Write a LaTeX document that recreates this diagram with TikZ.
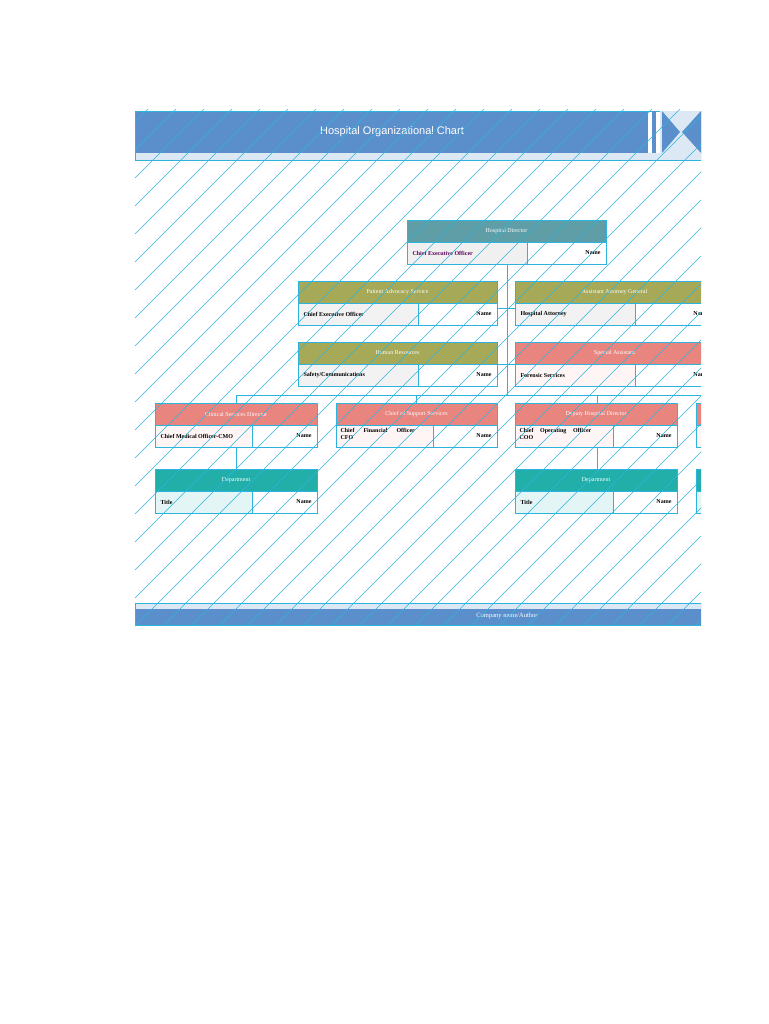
\documentclass[tikz,border=0pt]{standalone}
\usepackage{fontspec}
\setmainfont{Liberation Serif}
\newfontfamily\hsans{Liberation Sans}
\begin{document}
\begin{tikzpicture}[x=1pt,y=-1pt,
  edge/.style={draw=cyanline,line width=0.9pt},
  ttl/.style={text=white,font=\fontsize{6}{7}\selectfont},
  bdy/.style={font=\bfseries\fontsize{6}{6.5}\selectfont,align=left}]
\definecolor{cyanline}{HTML}{2CB4DE}
\definecolor{bandblue}{HTML}{5B8FCB}
\definecolor{teal1}{HTML}{5F9EA6}
\definecolor{olive}{HTML}{A5A958}
\definecolor{salmon}{HTML}{E8857F}
\definecolor{dept}{HTML}{22AFAA}
\definecolor{lightstrip}{HTML}{DCE9F5}
\useasboundingbox (0,0) rectangle (768,1024);
\fill[white] (0,0) rectangle (768,1024);
\newcommand\orgbox[8]{%
  \fill[#6] (#2,#3) rectangle (#4,#3+22);
  \fill[#8] (#2,#3+22) rectangle (#5,#3+44);
  \fill[white] (#5,#3+22) rectangle (#4,#3+44);
  \draw[edge] (#2,#3) rectangle (#4,#3+44) (#2,#3+22) -- (#4,#3+22) (#5,#3+22) -- (#5,#3+44);
  \node[ttl] (#1t) at ({(#2+#4)/2},#3+11) {#7};
}
\begin{scope}
\clip (135,110) rectangle (701,626);
% header
\fill[bandblue] (135,111) rectangle (648,153);
\fill[lightstrip] (135,153) rectangle (701,160);
\draw[edge] (135,111) rectangle (701,160);
\fill[bandblue] (652,111) rectangle (656,153);
\fill[lightstrip] (660,111) rectangle (701,153);
\fill[bandblue] (662,111) -- (680,132) -- (662,153) -- cycle;
\fill[bandblue] (701,111) -- (682,132) -- (701,153) -- cycle;
\node[text=white,font=\hsans\fontsize{11}{13}\selectfont] (title) at (392,132) {Hospital Organizational Chart};
% footer
\fill[lightstrip] (135,603) rectangle (701,609);
\fill[bandblue] (135,609) rectangle (701,625);
\draw[edge] (135,603) rectangle (701,625);
\node[text=white,font=\fontsize{6.5}{7}\selectfont] (foot) at (507,616) {Company name/Author};
% connectors
\draw[edge] (507,264) -- (507,395);
\draw[edge] (497,308) -- (515,308);
\draw[edge] (497,364) -- (515,364);
\draw[edge] (236,403) -- (236,395) -- (701,395);
\draw[edge] (416,395) -- (416,403);
\draw[edge] (597,395) -- (597,403);
\draw[edge] (236,447) -- (236,469);
\draw[edge] (597,447) -- (597,469);
% boxes
\orgbox{hd}{407}{220}{606}{527}{teal1}{Hospital Director}{black!6}
\node[bdy,text=violet!70!black,anchor=west] (hdl) at (409,253) {Chief Executive Officer};
\node[bdy,anchor=east] (hdr) at (604,253) {Name};
\orgbox{pa}{298}{281}{497}{418}{olive}{Patient Advocacy Service}{black!5}
\node[bdy,anchor=west] (pal) at (300,314) {Chief Executive Officer};
\node[bdy,anchor=east] (par) at (495,314) {Name};
\orgbox{aa}{515}{281}{714}{635}{olive}{Assistant Attorney General}{black!5}
\node[bdy,anchor=west] (aal) at (517,314) {Hospital Attorney};
\node[bdy,anchor=east] (aar) at (712,314) {Name};
\orgbox{hr}{298}{342}{497}{418}{olive}{Human Resources}{black!5}
\node[bdy,anchor=west] (hrl) at (300,375) {Safety/Communications};
\node[bdy,anchor=east] (hrr) at (495,375) {Name};
\orgbox{sa}{515}{342}{714}{635}{salmon}{Special Assistant}{red!4}
\node[bdy,anchor=west] (sal) at (517,375) {Forensic Services};
\node[bdy,anchor=east] (sar) at (712,375) {Name};
\orgbox{cs}{155}{403}{317}{252}{salmon}{Clinical Services Director}{red!4}
\node[bdy,anchor=west] (csl) at (157,436) {Chief Medical Officer-CMO};
\node[bdy,anchor=east] (csr) at (315,436) {Name};
\orgbox{ss}{336}{403}{497}{433}{salmon}{Chief of Support Services}{red!4}
\node[bdy,anchor=north west] (ssl) at (337,425) {Chief\hspace{1.5em}Financial\hspace{1.5em}Officer\\CFO};
\node[bdy,anchor=east] (ssr) at (495,436) {Name};
\orgbox{dh}{515}{403}{677}{613}{salmon}{Deputy Hospital Director}{red!4}
\node[bdy,anchor=north west] (dhl) at (516,425) {Chief\hspace{1.1em}Operating\hspace{1.1em}Officer\\COO};
\node[bdy,anchor=east] (dhr) at (675,436) {Name};
\orgbox{xx}{696}{403}{858}{794}{salmon}{}{red!4}
\orgbox{d1}{155}{469}{317}{252}{dept}{Department}{dept!12}
\node[bdy,anchor=west] (d1l) at (157,502) {Title};
\node[bdy,anchor=east] (d1r) at (315,502) {Name};
\orgbox{d2}{515}{469}{677}{613}{dept}{Department}{dept!12}
\node[bdy,anchor=west] (d2l) at (517,502) {Title};
\node[bdy,anchor=east] (d2r) at (675,502) {Name};
\orgbox{d3}{696}{469}{858}{794}{dept}{}{dept!12}
% diagonal hatching on top
\foreach \i in {0,...,42} {
  \draw[cyanline,line width=0.5pt] (135+\i*28-560,626) -- ++(680,-680);
}
\end{scope}
\end{tikzpicture}
\end{document}
